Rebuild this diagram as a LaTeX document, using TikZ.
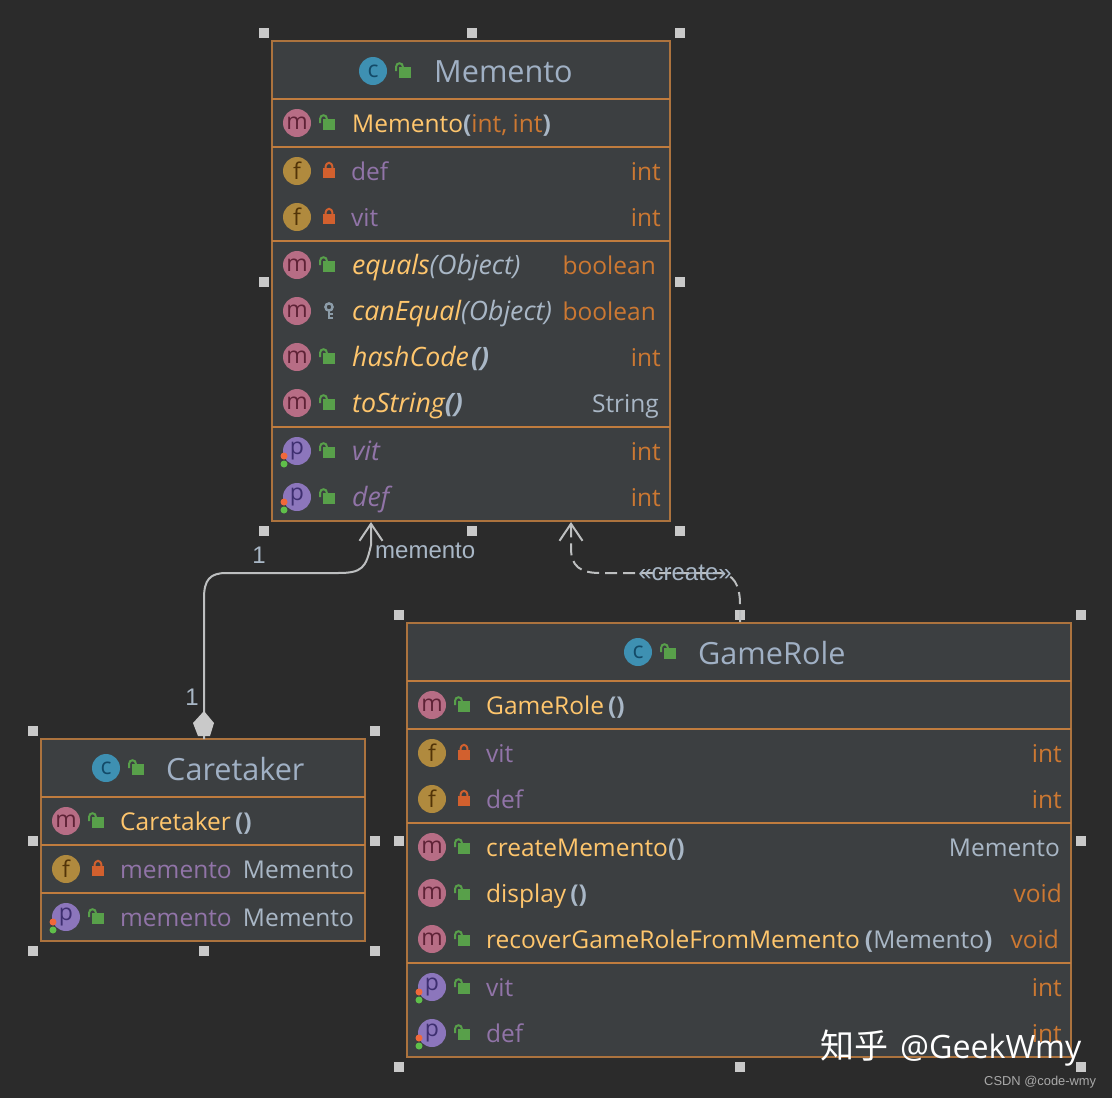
\documentclass[tikz,border=0pt]{standalone}
\usepackage{fontspec}
\setmainfont{Open Sans}
\newfontfamily\labelfont{Liberation Sans}
\newfontfamily\cjkfont{Noto Sans CJK SC}
\usetikzlibrary{arrows.meta}
\definecolor{bgc}{HTML}{2B2B2B}
\definecolor{boxc}{HTML}{3C3F41}
\definecolor{edgec}{HTML}{C07C3E}
\definecolor{handlec}{HTML}{C9C9C9}
\definecolor{linec}{HTML}{BDBFC0}
\definecolor{titlec}{HTML}{A0B0C4}
\definecolor{methc}{HTML}{FFC66D}
\definecolor{fieldc}{HTML}{9174A8}
\definecolor{typec}{HTML}{CC7832}
\definecolor{parenc}{HTML}{A9B7C6}
\definecolor{mic}{HTML}{B76D85}
\definecolor{mlet}{HTML}{5E2236}
\definecolor{fic}{HTML}{B08A3E}
\definecolor{flet}{HTML}{523408}
\definecolor{pic}{HTML}{8C76BC}
\definecolor{plet}{HTML}{3E2F70}
\definecolor{cic}{HTML}{3E90B2}
\definecolor{clet}{HTML}{134A68}
\definecolor{lockg}{HTML}{58A04A}
\definecolor{lockr}{HTML}{D2602E}
\definecolor{keyc}{HTML}{8C9CA8}
\definecolor{dotr}{HTML}{F0683A}
\definecolor{dotg}{HTML}{5FBF4A}
\newcount\autonum
\newcommand{\nextname}{\global\advance\autonum by 1 }
\tikzset{
  classbox/.style={draw=edgec!85!boxc,fill=boxc,line width=1.3pt,anchor=north west,inner sep=0pt,outer sep=0pt},
  sepline/.style={draw=edgec,line width=2.5pt},
  handle/.style={fill=handlec,draw=none,minimum size=9.5pt,inner sep=0pt},
  icondisc/.style={circle,minimum size=28pt,inner sep=0pt,font=\fontsize{23}{23}\selectfont},
  membertext/.style={anchor=base west,inner sep=0pt,font=\fontsize{24.5}{28}\selectfont},
  typetext/.style={anchor=base east,inner sep=0pt,font=\fontsize{24.5}{28}\selectfont},
  titletext/.style={anchor=base west,inner sep=0pt,text=titlec,font=\fontsize{30.6}{36}\selectfont},
  linklabel/.style={inner sep=0pt,text=parenc,font=\labelfont\fontsize{24}{26}\selectfont},
  assoc/.style={draw=linec,line width=2pt},
  opentip/.style={-{Straight Barb[length=17pt,width=23pt,line width=2pt]}},
}
\newcommand{\hnd}[2]{\nextname\node[handle] (h\the\autonum) at (#1,#2) {};}
\newcommand{\handles}[6]{\hnd{#1}{#4}\hnd{#2}{#4}\hnd{#3}{#4}\hnd{#1}{#5}\hnd{#3}{#5}\hnd{#1}{#6}\hnd{#2}{#6}\hnd{#3}{#6}}
\newcommand{\sep}[2]{\draw[sepline] (#1.west |- 0,#2) -- (#1.east |- 0,#2);}
\newcommand{\icn}[5]{\nextname\node[icondisc,fill=#4,text=#5] (i\the\autonum) at (#1,#2) {#3};}
\newcommand{\micon}[2]{\icn{#1}{#2}{m}{mic}{mlet}}
\newcommand{\ficon}[2]{\icn{#1}{#2}{f}{fic}{flet}}
\newcommand{\cicon}[2]{\icn{#1}{#2}{c}{cic}{clet}}
\newcommand{\picon}[2]{\icn{#1}{#2}{p}{pic}{plet}%
  \fill[dotr] (#1-13,#2+5) circle (3.5pt);\fill[dotg] (#1-13,#2+13) circle (3.5pt);}
\newcommand{\openlock}[2]{\begin{scope}[shift={(#1,#2)}]
  \fill[lockg] (-4,-4) rectangle (8,7);
  \draw[lockg,line width=2pt] (-7,0) -- (-7,-4) .. controls (-7,-9) and (0,-9) .. (0,-4);
  \end{scope}}
\newcommand{\redlock}[2]{\begin{scope}[shift={(#1,#2)}]
  \fill[lockr] (-6,-3) rectangle (6,7);
  \draw[lockr,line width=2pt] (-3.5,-3) .. controls (-3.5,-10) and (3.5,-10) .. (3.5,-3);
  \end{scope}}
\newcommand{\keyicon}[2]{\begin{scope}[shift={(#1,#2)}]
  \draw[keyc,line width=2.4pt] (0,-4) circle (3.6pt);
  \draw[keyc,line width=2.8pt] (0,-1) -- (0,8) (0,3) -- (3.5,3) (0,7) -- (3.5,7);
  \end{scope}}
\newcommand{\txt}[3]{\nextname\node[membertext] (t\the\autonum) at (#1,#2+9) {#3};}
\newcommand{\rtxt}[3]{\nextname\node[typetext] (t\the\autonum) at (#1,#2+9) {#3};}
\newcommand{\ttl}[3]{\nextname\node[titletext] (t\the\autonum) at (#1,#2+11) {#3};}
\newcommand{\mth}[1]{\textcolor{methc}{#1}}
\newcommand{\fld}[1]{\textcolor{fieldc}{#1}}
\newcommand{\typ}[1]{\textcolor{typec}{#1}}
\newcommand{\prn}[1]{\textcolor{parenc}{#1}}
\newcommand{\bp}[1]{\textcolor{parenc}{\bfseries #1}}
\newcommand{\ital}{\itshape\fontsize{26.7}{28}\selectfont}
\begin{document}
\begin{tikzpicture}[x=1pt,y=-1pt]
\useasboundingbox (0,0) rectangle (1112,1098);
\fill[bgc] (0,0) rectangle (1112,1098);
% class boxes
\node[classbox,minimum width=398pt,minimum height=480pt] (memento) at (272,41) {};
\node[classbox,minimum width=324pt,minimum height=202pt] (caretaker) at (41,739) {};
\node[classbox,minimum width=664pt,minimum height=434pt] (gamerole) at (407,623) {};
\sep{memento}{99}\sep{memento}{147}\sep{memento}{241}\sep{memento}{427}
\sep{caretaker}{797}\sep{caretaker}{845}\sep{caretaker}{893}
\sep{gamerole}{681}\sep{gamerole}{729}\sep{gamerole}{823}\sep{gamerole}{963}
% handles
\handles{264}{472}{680}{33}{282}{531}
\handles{33}{204}{375}{731}{841}{951}
\handles{399}{740}{1081}{615}{841}{1067}
% Memento
\cicon{373}{71}\openlock{403}{71}\ttl{434}{71}{Memento}
\micon{297}{123}\openlock{327}{123}\txt{352}{123}{\mth{Memento}\bp{(}\typ{int,\kern-1pt\ int}\bp{)}}
\ficon{297}{171}\redlock{329}{171}\txt{351}{171}{\fld{def}}\rtxt{661}{171}{\typ{int}}
\ficon{297}{217}\redlock{329}{217}\txt{351}{217}{\fld{vit}}\rtxt{661}{217}{\typ{int}}
\micon{297}{265}\openlock{327}{265}\txt{352}{265}{\ital\mth{equals}\prn{(Object)}}\rtxt{656}{265}{\typ{boolean}}
\micon{297}{311}\keyicon{329}{311}\txt{352}{311}{\ital\mth{canEqual}\prn{(Object)}}\rtxt{656}{311}{\typ{boolean}}
\micon{297}{357}\openlock{327}{357}\txt{352}{357}{\ital\mth{hashCode}\kern2pt\bp{()}}\rtxt{661}{357}{\typ{int}}
\micon{297}{403}\openlock{327}{403}\txt{352}{403}{\ital\mth{toString}\bp{()}}\rtxt{659}{403}{\prn{String}}
\picon{297}{451}\openlock{327}{451}\txt{352}{451}{\ital\fld{vit}}\rtxt{661}{451}{\typ{int}}
\picon{297}{497}\openlock{327}{497}\txt{352}{497}{\ital\fld{def}}\rtxt{661}{497}{\typ{int}}
% Caretaker
\cicon{106}{768}\openlock{136}{768}\ttl{166}{769}{Caretaker}
\micon{66}{821}\openlock{96}{821}\txt{120}{821}{\mth{Caretaker}\bp{\,()}}
\ficon{66}{869}\redlock{98}{869}\txt{120}{869}{\fld{memento}}\rtxt{354}{869}{\prn{Memento}}
\picon{66}{917}\openlock{96}{917}\txt{120}{917}{\fld{memento}}\rtxt{354}{917}{\prn{Memento}}
% GameRole
\cicon{638}{652}\openlock{668}{652}\ttl{698}{653}{GameRole}
\micon{432}{705}\openlock{462}{705}\txt{486}{705}{\mth{GameRole}\bp{\,()}}
\ficon{432}{753}\redlock{464}{753}\txt{486}{753}{\fld{vit}}\rtxt{1062}{753}{\typ{int}}
\ficon{432}{799}\redlock{464}{799}\txt{486}{799}{\fld{def}}\rtxt{1062}{799}{\typ{int}}
\micon{432}{847}\openlock{462}{847}\txt{486}{847}{\mth{createMemento}\bp{()}}\rtxt{1060}{847}{\prn{Memento}}
\micon{432}{893}\openlock{462}{893}\txt{486}{893}{\mth{display}\bp{\,()}}\rtxt{1062}{893}{\typ{void}}
\micon{432}{939}\openlock{462}{939}\txt{486}{939}{\mth{recoverGameRoleFromMemento}\kern5pt\bp{(}\prn{Memento}\bp{)}}\rtxt{1059}{939}{\typ{void}}
\picon{432}{987}\openlock{462}{987}\txt{486}{987}{\fld{vit}}\rtxt{1062}{987}{\typ{int}}
\picon{432}{1033}\openlock{462}{1033}\txt{486}{1033}{\fld{def}}\rtxt{1062}{1033}{\typ{int}}
% connectors
\coordinate (memA) at (371,522);
\coordinate (memB) at (571,522);
\coordinate (careTop) at (204,739);
\draw[assoc,opentip] (careTop) -- (204,598) .. controls (204,580) and (210,573) .. (226,573)
  -- (338,573) .. controls (362,573) and (366,568) .. (371,545) -- (memA);
\fill[handlec] (204,711) -- (214,723) -- (210,736) -- (198,736) -- (193,723) -- cycle;
\draw[assoc,dashed,dash pattern=on 12pt off 6pt,opentip] (gamerole.north -| careTop) ++(536,-1) -- (740,604) .. controls (740,586) and (734,573) .. (718,573)
  -- (600,573) .. controls (580,573) and (571,566) .. (571,548) -- (memB);
% link labels
\node[linklabel,anchor=base west] (l1) at (375,558) {memento};
\node[linklabel,anchor=base] (l2) at (259,563) {1};
\node[linklabel,anchor=base] (l3) at (192,705) {1};
\node[linklabel,anchor=base] (l4) at (685,580) {«create»};
% watermarks
\node[anchor=base west,inner sep=0pt,text=white,font=\cjkfont\fontsize{34}{36}\selectfont] (w1) at (820,1058) {知乎};
\node[anchor=base west,inner sep=0pt,text=white,font=\fontsize{32.2}{36}\selectfont] (w2) at (900,1058) {@GeekWmy};
\node[anchor=base west,inner sep=0pt,text=handlec!80!bgc,font=\labelfont\fontsize{12.9}{14}\selectfont] (w3) at (984,1085) {CSDN @code-wmy};
\end{tikzpicture}
\end{document}
